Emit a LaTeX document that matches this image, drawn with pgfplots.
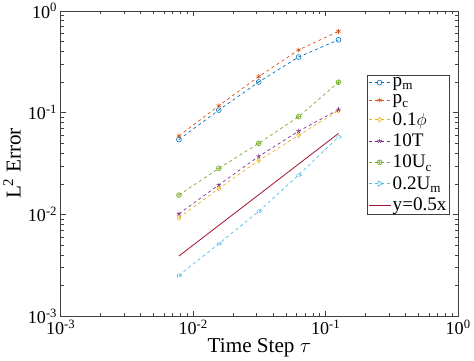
\documentclass[border=0pt]{standalone}
\usepackage{fontspec}
\setmainfont{Liberation Serif}
\usepackage{pgfplots}
\pgfplotsset{compat=1.18}
\definecolor{c1}{rgb}{0,0.447,0.741}
\definecolor{c2}{rgb}{0.85,0.325,0.098}
\definecolor{c3}{rgb}{0.929,0.694,0.125}
\definecolor{c4}{rgb}{0.494,0.184,0.556}
\definecolor{c5}{rgb}{0.466,0.674,0.188}
\definecolor{c6}{rgb}{0.301,0.745,0.933}
\definecolor{c7}{rgb}{0.635,0.078,0.184}
\newcommand{\sub}[1]{\raisebox{-0.4ex}{\fontsize{13}{13}\selectfont #1}}
\begin{document}
\begin{tikzpicture}[x=1bp,y=1bp]
\begin{axis}[
  scale only axis, width=393bp, height=302bp,
  xmode=log, ymode=log,
  xmin=1e-3, xmax=1, ymin=1e-3, ymax=1,
  xtick={0.001,0.01,0.1,1}, ytick={0.001,0.01,0.1,1},
  xticklabels={10\textsuperscript{-3},10\textsuperscript{-2},10\textsuperscript{-1},10\textsuperscript{0}},
  yticklabels={10\textsuperscript{-3},10\textsuperscript{-2},10\textsuperscript{-1},10\textsuperscript{0}},
  tick label style={font=\fontsize{18}{20}\selectfont},
  tick align=inside, major tick length=5bp, minor tick length=3bp,
  axis line style={draw=black!75, line width=0.6pt},
  every tick/.style={black!75, line width=0.5pt},
  xlabel={Time Step $\tau$}, ylabel={L\textsuperscript{2} Error},
  label style={font=\fontsize{21}{24}\selectfont},
  xlabel style={yshift=3bp},
  legend style={at={(rel axis cs:0.978,0.79)}, anchor=north east,
    font=\fontsize{19}{21}\selectfont, draw=black!75, line width=0.6pt,
    row sep=5bp, inner sep=1bp,
    nodes={inner xsep=1.5bp, inner ysep=1bp}},
  legend cell align=left,
  legend image code/.code={\draw[#1] (0bp,0bp) -- (22bp,0bp); \draw[#1, solid] plot coordinates {(11bp,0bp)};},
  every axis plot/.append style={line width=0.7pt, mark size=2.4bp, mark options={solid, line width=0.6pt}},
]
\addplot[c1, dashed, mark=o] coordinates {(0.0078125,0.0544) (0.015625,0.106) (0.03125,0.200) (0.0625,0.352) (0.125,0.519)};
\addlegendentry{p\sub{m}}
\addplot[c2, dashed, mark=asterisk] coordinates {(0.0078125,0.0591) (0.015625,0.117) (0.03125,0.226) (0.0625,0.413) (0.125,0.629)};
\addlegendentry{p\sub{c}}
\addplot[c3, dashed, mark=diamond] coordinates {(0.0078125,0.00927) (0.015625,0.0180) (0.03125,0.0339) (0.0625,0.0600) (0.125,0.105)};
\addlegendentry{0.1$\phi$}
\addplot[c4, dashed, mark=star] coordinates {(0.0078125,0.01016) (0.015625,0.0195) (0.03125,0.0372) (0.0625,0.0658) (0.125,0.107)};
\addlegendentry{10T}
\addplot[c5, dashed, mark=oplus] coordinates {(0.0078125,0.0155) (0.015625,0.0284) (0.03125,0.0500) (0.0625,0.0912) (0.125,0.199)};
\addlegendentry{10U\sub{c}}
\addplot[c6, dashed, mark=triangle, mark size=3bp, mark options={rotate=-90}] coordinates {(0.0078125,0.00252) (0.015625,0.00516) (0.03125,0.01073) (0.0625,0.0244) (0.125,0.0578)};
\addlegendentry{0.2U\sub{m}}
\addplot[c7, solid, no marks, line width=0.8pt] coordinates {(0.0078125,0.00390625) (0.125,0.0625)};
\addlegendentry{y=0.5x}
\end{axis}
\end{tikzpicture}
\end{document}
